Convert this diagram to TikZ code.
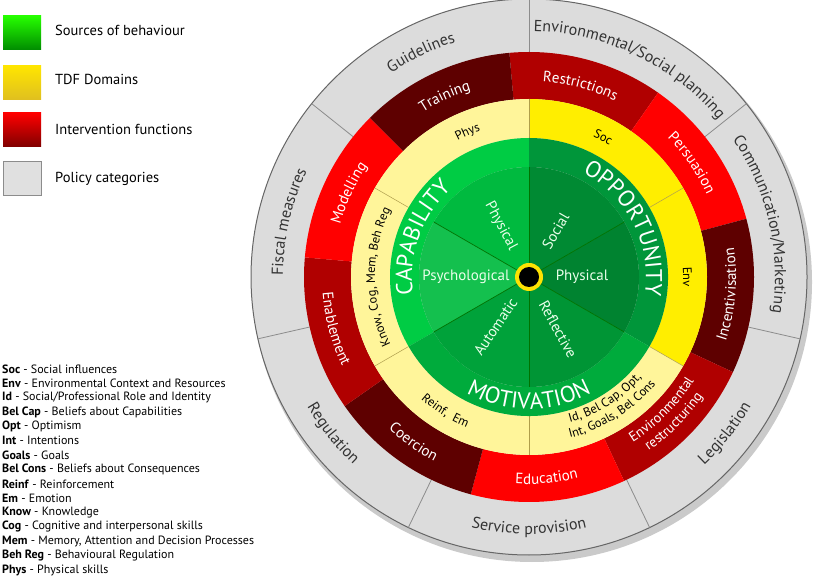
\documentclass[tikz,border=0pt]{standalone}
\usepackage{fontspec}
\setmainfont{PT Sans}
\usetikzlibrary{decorations.text,calc}
\definecolor{pgray}{HTML}{DCDCDC}
\definecolor{rb}{HTML}{FF0000}
\definecolor{rd}{HTML}{B00000}
\definecolor{rv}{HTML}{5E0000}
\definecolor{yb}{HTML}{FFEE00}
\definecolor{yp}{HTML}{FFF59A}
\definecolor{gcap}{HTML}{00CC44}
\definecolor{gcapi}{HTML}{00BA3F}
\definecolor{gopp}{HTML}{00963A}
\definecolor{goppi}{HTML}{008A33}
\definecolor{gmot}{HTML}{00AB3C}
\definecolor{gauto}{HTML}{00A23A}
\definecolor{grefl}{HTML}{009535}
\newcommand\sect[5]{\fill[#5,shift={(C)}] (#3:#2) arc[start angle=#3,end angle=#4,radius=#2] -- (#4:#1) arc[start angle=#4,end angle=#3,radius=#1] -- cycle;}
\newcommand\cwtext[3]{\path[shift={(C)},decorate,decoration={text along path,text align=center,text={#3}}] (#2+75:#1) arc[start angle=#2+75,end angle=#2-75,radius=#1];}
\newcommand\ccwtext[3]{\path[shift={(C)},decorate,decoration={text along path,text align=center,text={#3}}] (#2-75:#1) arc[start angle=#2-75,end angle=#2+75,radius=#1];}
\begin{document}
\begin{tikzpicture}[x=1pt,y=1pt,
  legbox/.style={minimum width=38pt,minimum height=34pt,inner sep=0pt,anchor=south west},
  legtxt/.style={anchor=west,font=\fontsize{14.5}{16}\selectfont,inner sep=0pt},
  keytxt/.style={anchor=west,font=\fontsize{12}{13}\selectfont,inner sep=0pt},
  inlab/.style={text=white!92!green,font=\fontsize{15}{17}\selectfont,inner sep=0pt}]
\useasboundingbox (0,0) rectangle (821,578);
\coordinate (C) at (529,301);
% shadow
\fill[black!35,opacity=0.6] ($(C)+(3,-5)$) circle[radius=280];
% policy ring
\fill[pgray,draw=black!60,line width=1pt] (C) circle[radius=278];
\foreach \a in {0,...,6}{\draw[black!45,line width=0.8pt,shift={(C)}] (90-\a*51.43:225) -- (90-\a*51.43:278);}
% intervention ring
\sect{178}{225}{95}{55}{rd}
\sect{178}{225}{55}{15}{rb}
\sect{178}{225}{15}{-25}{rv}
\sect{178}{225}{-25}{-65}{rd}
\sect{178}{225}{-65}{-105}{rb}
\sect{178}{225}{-105}{-145}{rv}
\sect{178}{225}{-145}{-185}{rd}
\sect{178}{225}{175}{135}{rb}
\sect{178}{225}{135}{95}{rv}
% TDF ring
\sect{139}{178}{150}{90}{yp}
\sect{139}{178}{90}{30}{yb}
\sect{139}{178}{30}{-30}{yb}
\sect{139}{178}{-30}{-90}{yp}
\sect{139}{178}{-90}{-150}{yp}
\sect{139}{178}{210}{150}{yp}
\foreach \a in {90,30,-30,-90,-150,150}{\draw[black!40!yellow!70!brown,line width=0.5pt,shift={(C)}] (\a:139) -- (\a:178);}
% sources
\sect{110}{139}{90}{210}{gcap}
\sect{110}{139}{-30}{90}{gopp}
\sect{110}{139}{210}{330}{gmot}
\sect{0}{110}{90}{150}{gcapi}
\sect{0}{110}{150}{210}{gcapi!92!white}
\sect{0}{110}{30}{90}{goppi}
\sect{0}{110}{-30}{30}{goppi!95!black}
\sect{0}{110}{210}{270}{gauto}
\sect{0}{110}{270}{330}{grefl}
\foreach \a in {90,30,-30,-90,-150,150}{\draw[black!55!green,line width=0.7pt,shift={(C)}] (0,0) -- (\a:110);}
\fill[yellow!85!orange] (C) circle[radius=14];
\fill[black] (C) circle[radius=10];
% policy labels
\cwtext{246}{64.3}{|\fontsize{16}{18}\selectfont\color{black!80}|Environmental/Social planning}
\cwtext{246}{12.9}{|\fontsize{16}{18}\selectfont\color{black!80}|Communication/Marketing}
\ccwtext{257}{-38.6}{|\fontsize{16}{18}\selectfont\color{black!80}|Legislation}
\ccwtext{257}{-90}{|\fontsize{16}{18}\selectfont\color{black!80}|Service provision}
\ccwtext{257}{-141.4}{|\fontsize{16}{18}\selectfont\color{black!80}|Regulation}
\cwtext{246}{167.1}{|\fontsize{16}{18}\selectfont\color{black!80}|Fiscal measures}
\cwtext{246}{115.7}{|\fontsize{16}{18}\selectfont\color{black!80}|Guidelines}
% intervention labels
\cwtext{196}{75}{|\fontsize{15}{17}\selectfont\color{white}|Restrictions}
\cwtext{196}{35}{|\fontsize{15}{17}\selectfont\color{white}|Persuasion}
\ccwtext{207}{-5}{|\fontsize{15}{17}\selectfont\color{white}|Incentivisation}
\ccwtext{195}{-45}{|\fontsize{14}{16}\selectfont\color{white}|Environmental}
\ccwtext{211}{-45}{|\fontsize{14}{16}\selectfont\color{white}|restructuring}
\ccwtext{207}{-85}{|\fontsize{15}{17}\selectfont\color{white}|Education}
\ccwtext{207}{-125}{|\fontsize{15}{17}\selectfont\color{white}|Coercion}
\ccwtext{207}{195}{|\fontsize{15}{17}\selectfont\color{white}|Enablement}
\cwtext{196}{155}{|\fontsize{15}{17}\selectfont\color{white}|Modelling}
\cwtext{196}{115}{|\fontsize{15}{17}\selectfont\color{white}|Training}
% TDF labels
\cwtext{154}{113}{|\fontsize{12.5}{14}\selectfont|Phys}
\cwtext{154}{62}{|\fontsize{12.5}{14}\selectfont|Soc}
\cwtext{154}{0}{|\fontsize{12.5}{14}\selectfont|Env}
\ccwtext{151}{-58}{|\fontsize{12.5}{14}\selectfont|Id, Bel Cap, Opt,}
\ccwtext{166}{-58}{|\fontsize{12.5}{14}\selectfont|Int, Goals, Bel Cons}
\ccwtext{163}{-122}{|\fontsize{12.5}{14}\selectfont|Reinf,\ \ Em}
\cwtext{154}{180}{|\fontsize{12.5}{14}\selectfont|Know, Cog, Mem, Beh Reg}
% source labels
\cwtext{117}{160}{|\fontsize{23}{25}\selectfont\color{white}|CAPABILITY}
\cwtext{117}{27}{|\fontsize{23}{25}\selectfont\color{white}|OPPORTUNITY}
\ccwtext{132}{-90}{|\fontsize{23}{25}\selectfont\color{white}|MOTIVATION}
\node[inlab] (psy) at ($(C)+(-63,0)$) {Psychological};
\node[inlab] (phyo) at ($(C)+(53,0)$) {Physical};
\node[inlab,rotate=-62] (phyc) at ($(C)+(119:58)$) {Physical};
\node[inlab,rotate=60] (soc) at ($(C)+(60:53)$) {Social};
\node[inlab,rotate=56] (aut) at ($(C)+(-124:60)$) {Automatic};
\node[inlab,rotate=-61] (ref) at ($(C)+(-61:60)$) {Reflective};
% legend
\node[legbox,top color=green!80!lime,bottom color=green!55!black] (b1) at (3,528) {};
\node[legbox,top color=yellow!80!orange,bottom color=yellow!50!brown] (b2) at (3,478) {};
\node[legbox,top color=red,bottom color=red!50!black] (b3) at (3,431) {};
\node[legbox,fill=black!12,draw=black!45,line width=1pt] (b4) at (3,382) {};
\node[legtxt] (t1) at (55,548) {Sources of behaviour};
\node[legtxt] (t2) at (55,499) {TDF Domains};
\node[legtxt] (t3) at (55,449) {Intervention functions};
\node[legtxt] (t4) at (55,399) {Policy categories};
\foreach \k/\d [count=\i from 0] in {Soc/Social influences,Env/Environmental Context and Resources,Id/{Social/Professional Role and Identity},Bel Cap/Beliefs about Capabilities,Opt/Optimism,Int/Intentions,Goals/Goals,Bel Cons/Beliefs about Consequences,Reinf/Reinforcement,Em/Emotion,Know/Knowledge,Cog/Cognitive and interpersonal skills,Mem/{Memory, Attention and Decision Processes},Beh Reg/Behavioural Regulation,Phys/Physical skills}
  {\node[keytxt] (k\i) at (2,209-\i*14.36) {\textbf{\k} - \d};}
\end{tikzpicture}
\end{document}
